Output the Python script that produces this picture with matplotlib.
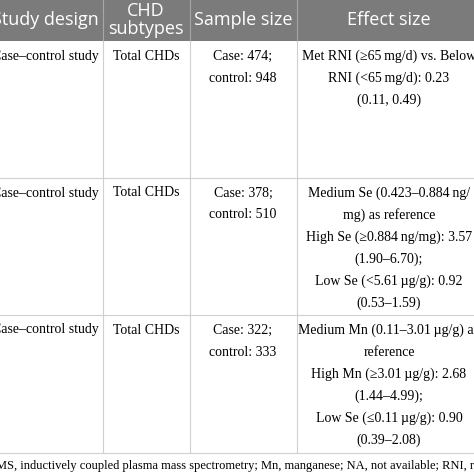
import matplotlib.pyplot as plt

headers = ["Study design", "CHD\nsubtypes", "Sample size", "Effect size"]
designs = ["Case\u2013control study"] * 3
subtypes = ["Total CHDs"] * 3
samples = ["Case: 474;\ncontrol: 948", "Case: 378;\ncontrol: 510", "Case: 322;\ncontrol: 333"]
effects = [
    "Met RNI (\u226565\u2009mg/d) vs. Below\nRNI (<65\u2009mg/d): 0.23\n(0.11, 0.49)",
    "Medium Se (0.423\u20130.884\u2009ng/\nmg) as reference\nHigh Se (\u22650.884\u2009ng/mg): 3.57\n(1.90\u20136.70);\nLow Se (<5.61\u2009\u00b5g/g): 0.92\n(0.53\u20131.59)",
    "Medium Mn (0.11\u20133.01\u2009\u00b5g/g) as\nreference\nHigh Mn (\u22653.01\u2009\u00b5g/g): 2.68\n(1.44\u20134.99);\nLow Se (\u22640.11\u2009\u00b5g/g): 0.90\n(0.39\u20132.08)",
]
footer = "MS, inductively coupled plasma mass spectrometry; Mn, manganese; NA, not available; RNI, recommended"

col_x = [45, 146, 243, 389]
col_lines = [103, 190, 297]
row_tops = [41, 178, 315]
row_bottom = 453
line_h = 22

fig = plt.figure(figsize=(4.74, 4.74), dpi=100)
ax = fig.add_axes([0, 0, 1, 1])
ax.set_xlim(0, 474)
ax.set_ylim(474, 0)
ax.axis("off")

ax.add_patch(plt.Rectangle((0, 0), 474, 41, color="#7b7b7b", lw=0))
for x in col_lines:
    ax.plot([x, x], [0, 41], color="#a8a8a8", lw=0.8)
    ax.plot([x, x], [41, row_bottom], color="#d0d0d0", lw=0.8)
for y in row_tops[1:] + [row_bottom]:
    ax.plot([0, 474], [y, y], color="#d0d0d0", lw=0.8)

for x, h in zip(col_x, headers):
    ax.text(x, 20, h, ha="center", va="center", color="white", fontsize=13,
            family="Open Sans", linespacing=1.05)

serif = ["Liberation Serif", "DejaVu Serif"]
fs = 10
for i, top in enumerate(row_tops):
    y0 = top + 15
    ax.text(col_x[0], y0, designs[i], ha="center", va="center", fontsize=fs, family=serif)
    ax.text(col_x[1], y0, subtypes[i], ha="center", va="center", fontsize=fs, family=serif)
    for j, ln in enumerate(samples[i].split("\n")):
        ax.text(col_x[2], y0 + j * line_h, ln, ha="center", va="center", fontsize=fs, family=serif)
    for j, ln in enumerate(effects[i].split("\n")):
        ax.text(col_x[3], y0 + j * line_h, ln, ha="center", va="center", fontsize=fs, family=serif)

ax.text(-4, 466, footer, ha="left", va="center", fontsize=9, family=serif)

fig.savefig("out.png", dpi=100)
